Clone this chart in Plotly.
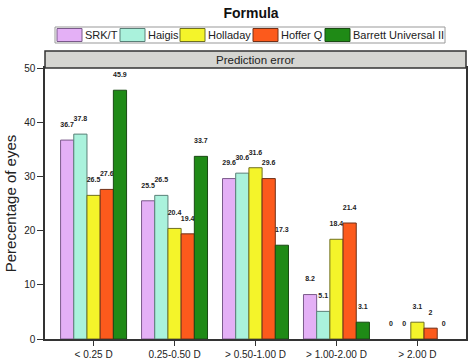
import plotly.graph_objects as go

categories = ["< 0.25 D", "0.25-0.50 D", "> 0.50-1.00 D", "> 1.00-2.00 D", "> 2.00 D"]
formulas = ["SRK/T", "Haigis", "Holladay", "Hoffer Q", "Barrett Universal II"]
srkt = [36.7, 25.5, 29.6, 8.2, 0]
haigis = [37.8, 26.5, 30.6, 5.1, 0]
holladay = [26.5, 20.4, 31.6, 18.4, 3.1]
hofferq = [27.6, 19.4, 29.6, 21.4, 2]
barrett = [45.9, 33.7, 17.3, 3.1, 0]
series = [srkt, haigis, holladay, hofferq, barrett]
colors = ["#e4b0f6", "#aaf2dc", "#f4f42a", "#fc5a1c", "#1f8a16"]
outlines = ["#7a5a8a", "#5a8078", "#707020", "#703018", "#1a4a14"]
y_ticks = [0, 10, 20, 30, 40, 50]

FONT = "Liberation Sans, Arial, sans-serif"
W, H = 474, 364
ML, MR, MT, MB = 45, 8, 68, 25
PW, PH = W - ML - MR, H - MT - MB


def px_x(p):
    return (p - ML) / PW


def px_y(p):
    return (H - MB - p) / PH


fig = go.Figure()
for name, vals, c, oc in zip(formulas, series, colors, outlines):
    fig.add_trace(go.Bar(
        name=name, x=categories, y=vals,
        marker=dict(color=c, line=dict(color=oc, width=[1 if v > 0 else 0 for v in vals])),
        text=[f"<b>{v:g}</b><br> " for v in vals],
        textposition="outside",
        constraintext="none",
        textfont=dict(size=7, color="#222", family=FONT),
        cliponaxis=False,
        showlegend=False,
    ))

strip_top = 1 + 17 / PH

shapes = [dict(type="rect", xref="paper", yref="paper", x0=0, x1=1, y0=1, y1=strip_top,
               fillcolor="#d5d5d1", line=dict(color="#333", width=1.5), layer="above")]
annotations = [dict(text="Prediction error", xref="paper", yref="paper", x=0.5,
                    y=(1 + strip_top) / 2, showarrow=False, xanchor="center", yanchor="middle",
                    font=dict(size=11.5, color="#222"))]

# manual legend (single row, as in the reference)
leg_top, leg_bot = 27, 43
shapes.append(dict(type="rect", xref="paper", yref="paper", x0=px_x(55), x1=px_x(445),
                   y0=px_y(leg_bot), y1=px_y(leg_top), fillcolor="white",
                   line=dict(color="#999", width=1), layer="above"))
swatch_x = [57, 120, 180, 253, 325]
for sx, name, c, oc in zip(swatch_x, formulas, colors, outlines):
    shapes.append(dict(type="rect", xref="paper", yref="paper", x0=px_x(sx), x1=px_x(sx + 25),
                       y0=px_y(41.5), y1=px_y(28.5), fillcolor=c,
                       line=dict(color=oc, width=1), layer="above"))
    annotations.append(dict(text=name, xref="paper", yref="paper", x=px_x(sx + 26),
                            y=px_y(35), xanchor="left", yanchor="middle", showarrow=False,
                            font=dict(size=11, color="#222")))

fig.update_layout(
    width=W, height=H,
    margin=dict(l=ML, r=MR, t=MT, b=MB),
    paper_bgcolor="white", plot_bgcolor="white",
    barmode="group", bargap=0.185, bargroupgap=0,
    font=dict(family=FONT, color="#222"),
    title=dict(text="<b>Formula</b>", x=251 / W, xanchor="center", y=1 - 13.5 / H, yanchor="middle",
               font=dict(size=14, color="#111")),
    showlegend=False,
    xaxis=dict(range=[-0.6, 4.6], showline=True, mirror=True, linecolor="#333", linewidth=1.5,
               ticks="outside", ticklen=5, tickcolor="#333", tickfont=dict(size=10, color="#222"),
               showgrid=False, zeroline=False, automargin=False),
    yaxis=dict(range=[0, 50], tickvals=y_ticks, showline=True, mirror=True, linecolor="#333",
               linewidth=1.5, ticks="outside", ticklen=6, tickcolor="#333",
               tickfont=dict(size=10, color="#222"), showgrid=False, zeroline=False,
               automargin=False,
               title=dict(text="Perecentage of eyes", font=dict(size=15, color="#222"), standoff=4)),
    shapes=shapes,
    annotations=annotations,
)
fig.write_html("out.html", config={"displayModeBar": False},
               post_script="document.body.style.margin='0px';document.body.style.overflow='hidden';")
